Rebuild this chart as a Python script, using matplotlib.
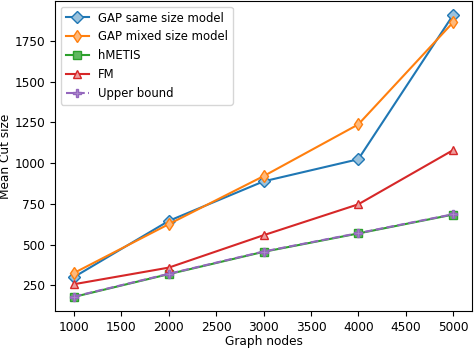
import matplotlib.pyplot as plt
from matplotlib.colors import to_rgb

nodes = [1000, 2000, 3000, 4000, 5000]
gap_same = [300, 645, 888, 1024, 1910]
gap_mixed = [325, 625, 920, 1238, 1865]
hmetis = [178, 318, 455, 568, 684]
fm = [256, 358, 557, 747, 1080]
upper = [180, 320, 457, 570, 686]

plt.rcParams['font.size'] = 8.7


def light(c, a):
    r, g, b = to_rgb(c)
    return (1 - a + a * r, 1 - a + a * g, 1 - a + a * b)


fig = plt.figure(figsize=(4.74, 3.48), dpi=100)
ax = fig.add_subplot(111)
fig.subplots_adjust(left=55/474, right=472/474, top=1 - 1/348, bottom=1 - 311/348)

ax.plot(nodes, gap_same, marker='D', color='tab:blue', mfc=light('tab:blue', 0.45), label='GAP same size model')
ax.plot(nodes, gap_mixed, marker='d', color='tab:orange', mfc=light('tab:orange', 0.55), label='GAP mixed size model')
ax.plot(nodes, hmetis, marker='s', color='tab:green', mfc=light('tab:green', 0.75), label='hMETIS')
ax.plot(nodes, fm, marker='^', color='tab:red', mfc=light('tab:red', 0.45), label='FM')
ax.plot(nodes, upper, marker='P', linestyle='--', color='tab:purple', mfc=light('tab:purple', 0.75), label='Upper bound')

ax.set_xlabel('Graph nodes', labelpad=1)
ax.set_ylabel('Mean Cut size', labelpad=2)
ax.legend(loc='upper left', fontsize=8.4)

fig.savefig('out.png', dpi=100)
